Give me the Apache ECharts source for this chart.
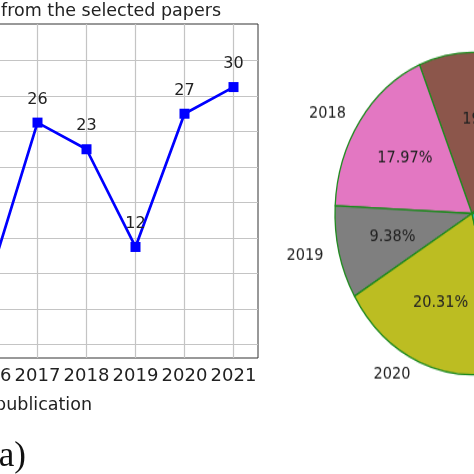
<!DOCTYPE html>
<html>
<head>
<meta charset="utf-8">
<script src="https://cdn.jsdelivr.net/npm/echarts@6/dist/echarts.min.js"></script>
<style>
  html, body { margin: 0; padding: 0; background: #fff; }
  #wrap { position: relative; width: 474px; height: 474px; overflow: hidden; }
  #line { position: absolute; left: 0; top: 0; width: 474px; height: 474px; }
  /* the pie in the source is stretched into an ellipse */
  #pie {
    position: absolute; left: 0; top: 0; width: 474px; height: 474px;
    transform: scaleY(1.175); transform-origin: 472px 213.5px;
  }
</style>
</head>
<body>
<div id="wrap">
  <div id="line"></div>
  <div id="pie"></div>
</div>
<script>
  // line chart data
  const years = ['2016', '2017', '2018', '2019', '2020', '2021']
  const papers = [8, 26, 23, 12, 27, 30]
  const yGridValues = [1, 5, 9, 13, 17, 21, 25, 29, 33]

  // pie data
  const pieYears = ['2012', '2013', '2014', '2015', '2016', '2017', '2018', '2019', '2020', '2021']
  const pieCounts = [1, 1, 2, 3, 8, 25, 23, 12, 26, 27]
  const colorList = ['#1f77b4', '#ff7f0e', '#2ca02c', '#d62728', '#9467bd',
    '#8c564b', '#e377c2', '#7f7f7f', '#bcbd22', '#17becf']

  const font = 'DejaVu Sans'
  const textColor = '#222'
  const gridColor = '#c4c4c4'

  const lineChart = echarts.init(document.getElementById('line'))
  lineChart.setOption({
    animation: false,
    grid: {
      left: -36,
      right: 216,
      top: 24,
      bottom: 116,
      show: true,
      borderColor: '#333',
      borderWidth: 1,
      outerBoundsMode: 'none',
    },
    xAxis: {
      type: 'category',
      data: years,
      boundaryGap: true,
      axisLine: { show: false },
      axisTick: { show: true, alignWithLabel: true, length: 4, lineStyle: { color: '#333' } },
      axisLabel: { fontFamily: font, fontSize: 18, color: textColor, margin: 9, interval: 0 },
      splitLine: { show: false },
    },
    yAxis: {
      type: 'value',
      min: -0.5,
      max: 37.1,
      axisLine: { show: false },
      axisTick: { show: false },
      axisLabel: { show: false },
      splitLine: { show: false },
    },
    graphic: [
      {
        type: 'text',
        left: 1,
        top: 2,
        style: { text: 'from the selected papers', font: '17.5px "DejaVu Sans"', fill: textColor },
      },
      {
        type: 'text',
        x: 92,
        y: 396,
        style: { text: 'publication', font: '17.5px "DejaVu Sans"', fill: textColor, textAlign: 'right' },
      },
      {
        type: 'text',
        x: 26,
        y: 439,
        style: { text: '(a)', font: '35px "Liberation Serif"', fill: '#111', textAlign: 'right' },
      },
    ],
    series: [
      {
        type: 'line',
        data: papers,
        symbol: 'rect',
        symbolSize: 10,
        z: 3,
        lineStyle: { color: '#0000ff', width: 2.7 },
        itemStyle: { color: '#0000ff' },
        label: {
          show: true,
          position: 'top',
          distance: 10,
          fontFamily: font,
          fontSize: 16,
          color: textColor,
        },
        markLine: {
          silent: true,
          z: 1,
          symbol: ['none', 'none'],
          label: { show: false },
          lineStyle: { color: gridColor, type: 'solid', width: 1.2 },
          data: yGridValues.map((v) => ({ yAxis: v })).concat(years.map((y) => ({ xAxis: y }))),
        },
      },
    ],
  })

  const total = pieCounts.reduce((a, b) => a + b, 0)
  const pieData = pieYears.map((y, i) => ({ name: y, value: pieCounts[i] }))

  const pieChart = echarts.init(document.getElementById('pie'))
  pieChart.setOption({
    animation: false,
    color: colorList,
    series: [
      {
        // slices with the year names outside
        type: 'pie',
        center: [472, 213.5],
        radius: 137,
        startAngle: 0,
        clockwise: false,
        avoidLabelOverlap: false,
        silent: true,
        data: pieData,
        itemStyle: { borderColor: '#1f8a1f', borderWidth: 1.3 },
        label: {
          show: true,
          position: 'outside',
          alignTo: 'none',
          fontFamily: font,
          fontSize: 14.5,
          color: textColor,
          formatter: '{b}',
        },
        labelLine: { show: false, length: 11, length2: 0 },
      },
      {
        // transparent copy, only for the percentages at 0.6 r
        type: 'pie',
        center: [472, 213.5],
        radius: 158,
        startAngle: 0,
        clockwise: false,
        avoidLabelOverlap: false,
        silent: true,
        data: pieData,
        itemStyle: { color: 'rgba(0,0,0,0)', borderWidth: 0 },
        label: {
          show: true,
          position: 'inside',
          fontFamily: font,
          fontSize: 14.5,
          color: textColor,
          formatter: (p) => ((p.value / total) * 100).toFixed(2) + '%',
        },
        labelLine: { show: false },
      },
    ],
  })
</script>
</body>
</html>
